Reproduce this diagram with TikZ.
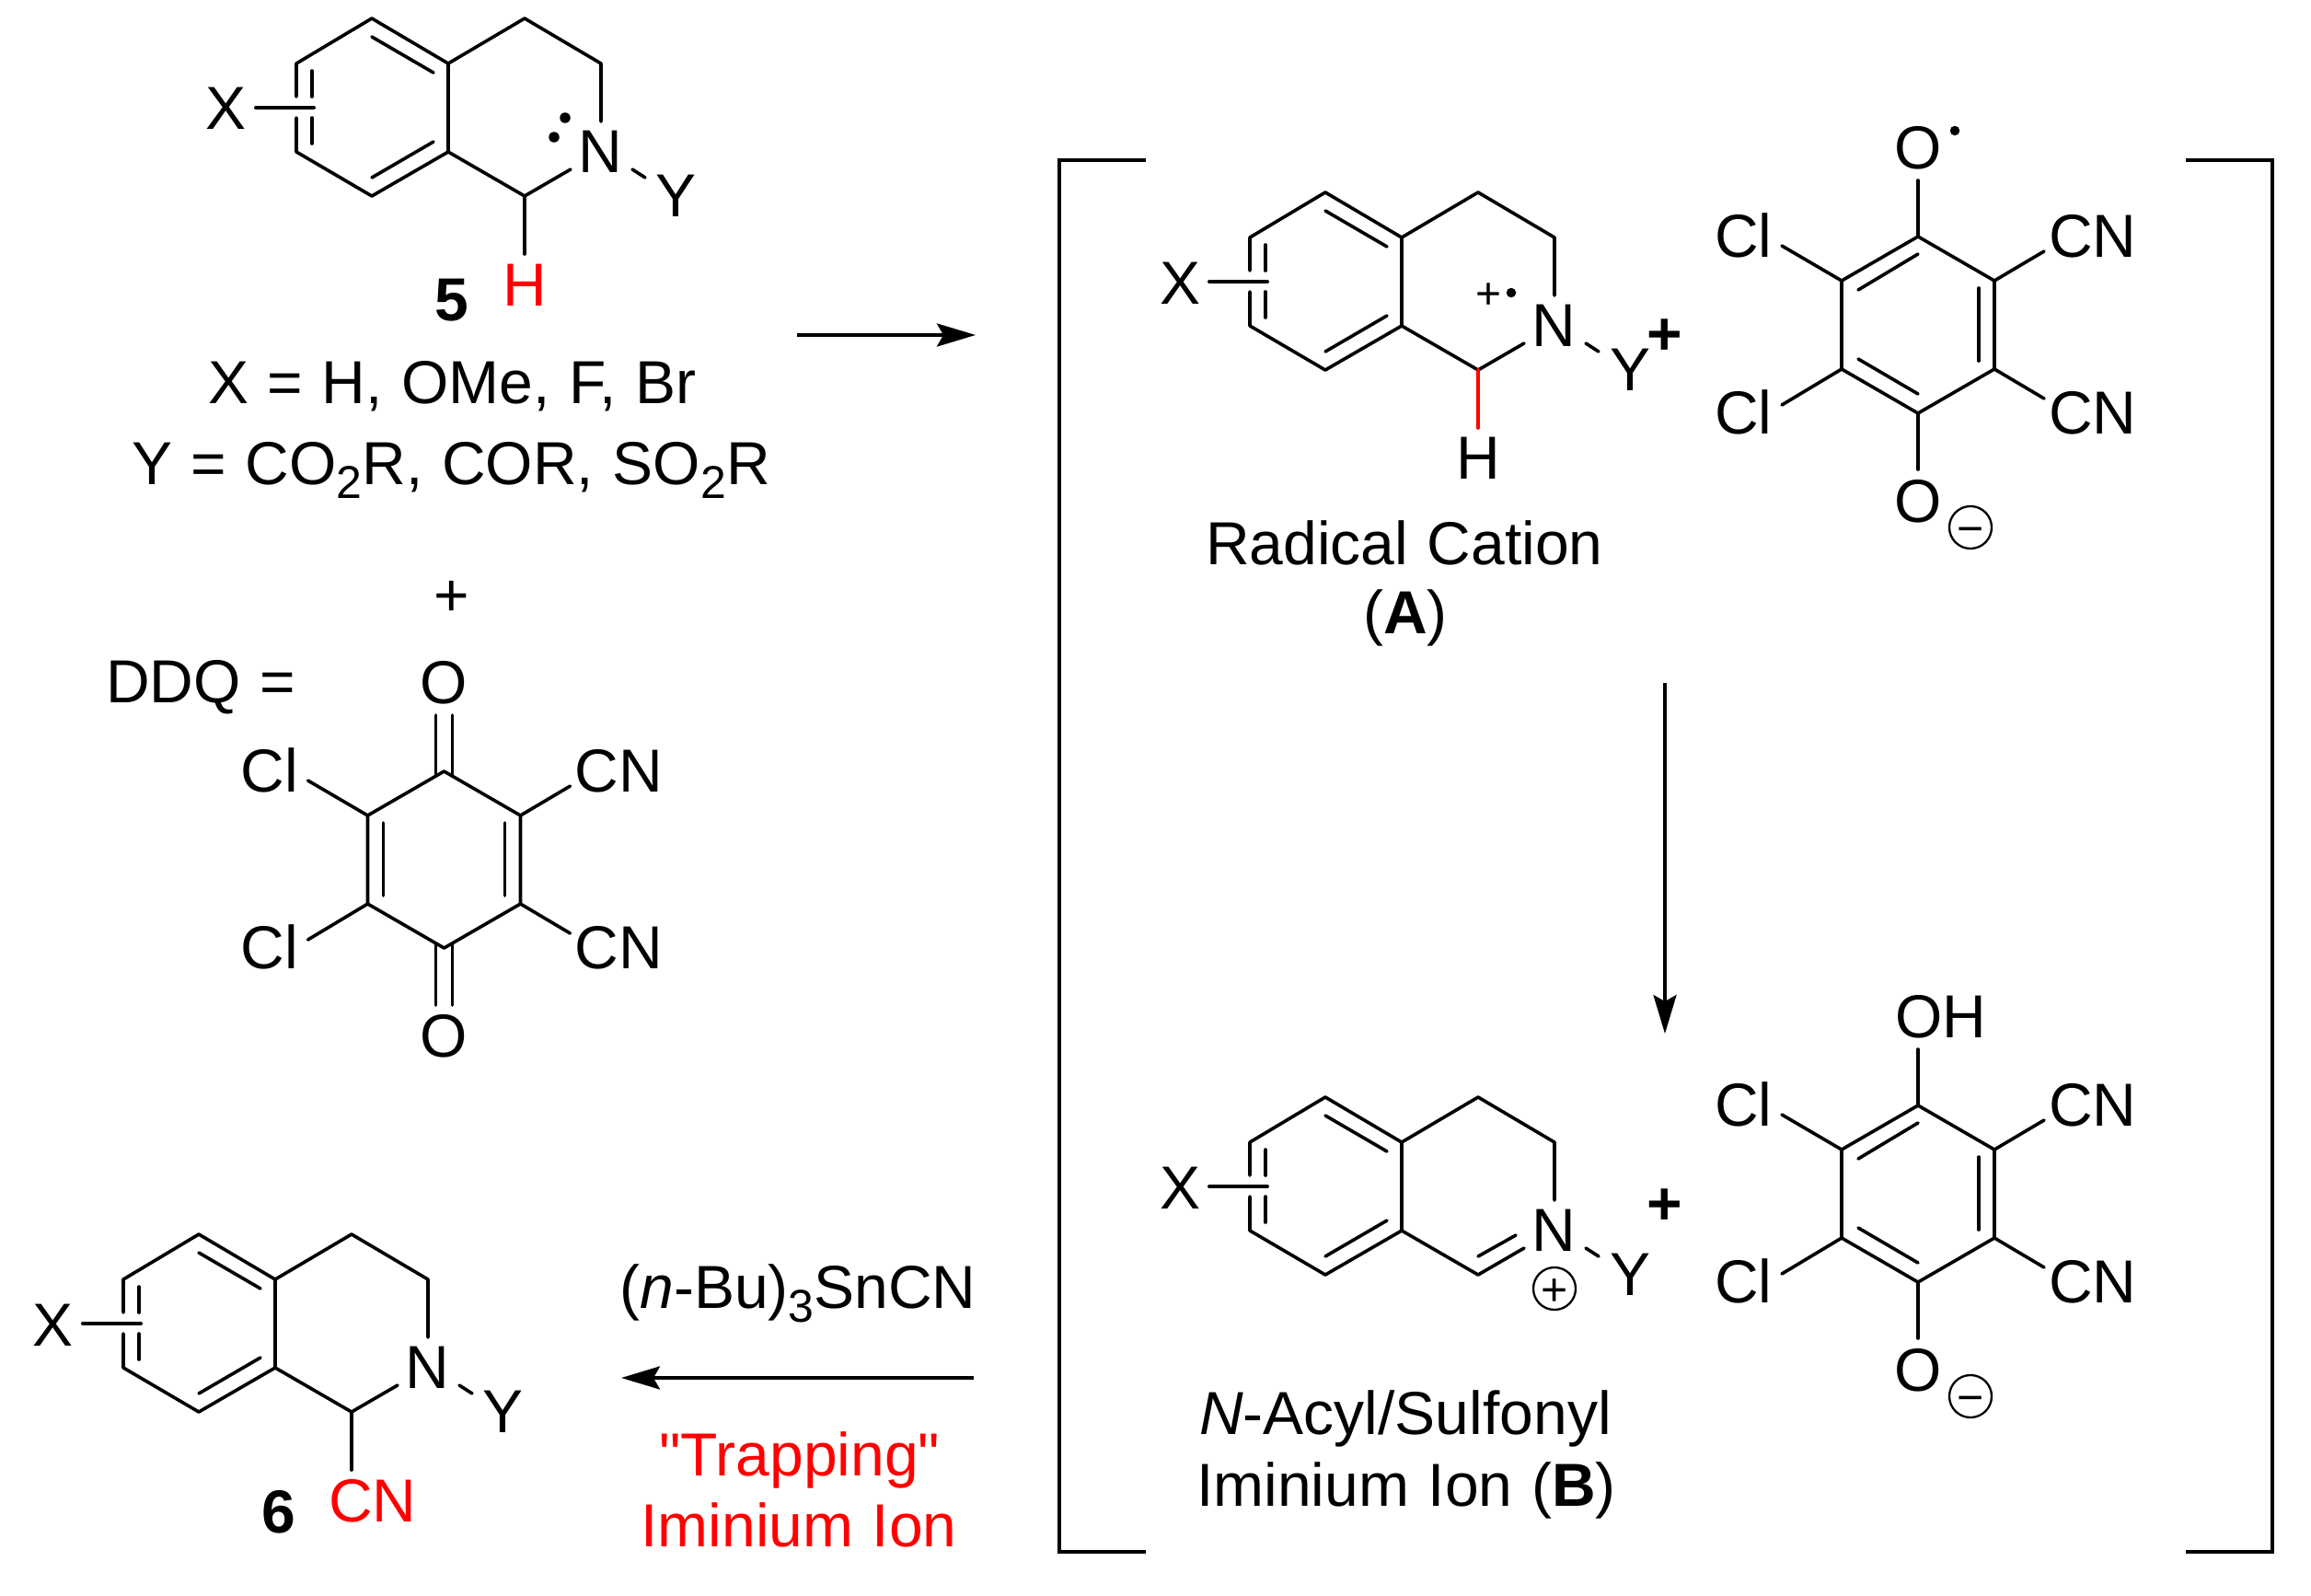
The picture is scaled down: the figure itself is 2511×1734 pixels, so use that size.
\documentclass[tikz,border=0pt]{standalone}
\usepackage{fontspec}
\setmainfont{Liberation Sans}[Ligatures=TeXOff,WordSpace=1.12]
\usetikzlibrary{arrows.meta}
\definecolor{rxred}{RGB}{255,0,0}
\newcommand{\dnsub}[1]{\raisebox{-15pt}{\fontsize{50}{50}\selectfont #1}}
\tikzset{
  lab/.style={inner sep=0pt,outer sep=0pt,anchor=base,font=\fontsize{66}{72}\selectfont},
  labw/.style={lab,anchor=base west},
  bond/.style={line width=3.6pt,line cap=round,line join=round},
  rxarrow/.style={line width=3.6pt,-{Stealth[length=42pt,width=25pt,inset=7pt]}},
  brk/.style={line width=3.8pt,line join=miter},
  chargering/.style={draw,circle,line width=2.3pt,minimum size=46pt,inner sep=0pt},
  chargesign/.style={lab,font=\fontsize{50}{50}\selectfont},
  elec/.style={fill,circle,inner sep=0pt,minimum size=10.5pt},
  lonee/.style={fill,circle,inner sep=0pt,minimum size=11.5pt},
}
% tetrahydroisoquinoline skeleton, local coordinates are those of compound 5
\newcommand{\isoqcore}{%
  \coordinate (c8a) at (404,20);  \coordinate (ul) at (322,69);
  \coordinate (ll) at (322,165);  \coordinate (b) at (404,213);
  \coordinate (jl) at (487,165);  \coordinate (ju) at (487,69);
  \coordinate (c4) at (570,20);   \coordinate (c3) at (653,69);
  \coordinate (c1) at (570,213);  \coordinate (nt) at (653,132);
  \coordinate (nl) at (620,184);
  \coordinate (ula) at (322,105); \coordinate (llb) at (322,128);
  \coordinate (i1) at (339,77);   \coordinate (i2) at (339,105);
  \coordinate (i3) at (339,128);  \coordinate (i4) at (339,156);
  \coordinate (i5) at (404,40);   \coordinate (i6) at (471,79);
  \coordinate (i7) at (404,193);  \coordinate (i8) at (471,154);
  \coordinate (xa) at (278,117);  \coordinate (xb) at (341,117);
  \coordinate (ya) at (687,184);  \coordinate (yb) at (701,193);
  \coordinate (sub) at (570,276);
  \node[lab] (xl) at (246,141) {X};
  \node[lab] (nn) at (652,187) {N};
  \node[lab] (yy) at (735,235) {Y};
  \draw[bond] (ula) -- (ul) -- (c8a) -- (ju) -- (jl) -- (b) -- (ll) -- (llb);
  \draw[bond] (ju) -- (c4) -- (c3) -- (nt);
  \draw[bond] (jl) -- (c1);
  \draw[bond] (i1) -- (i2);
  \draw[bond] (i3) -- (i4);
  \draw[bond] (i5) -- (i6);
  \draw[bond] (i7) -- (i8);
  \draw[bond,line width=4pt] (xa) -- (xb);
  \draw[bond] (ya) -- (yb);
}
% benzene-type ring with Cl / CN groups, centred on the local origin
\newcommand{\qcore}{%
  \coordinate (t) at (0,-96);  \coordinate (tl) at (-83,-48);
  \coordinate (bl) at (-83,48); \coordinate (bb) at (0,96);
  \coordinate (br) at (83,48);  \coordinate (tr) at (83,-48);
  \coordinate (cla) at (-148,-86); \coordinate (clb) at (-148,87);
  \coordinate (cna) at (137,-80);  \coordinate (cnb) at (137,80);
  \draw[bond] (t) -- (tl) -- (bl) -- (bb) -- (br) -- (tr) -- cycle;
  \draw[bond] (tl) -- (cla);
  \draw[bond] (bl) -- (clb);
  \draw[bond] (tr) -- (cna);
  \draw[bond] (br) -- (cnb);
  \node[labw] (cl1) at (-221,-74) {Cl};
  \node[labw] (cl2) at (-221,118) {Cl};
  \node[labw] (cn1) at (142,-74) {CN};
  \node[labw] (cn2) at (142,118) {CN};
  \coordinate (ri1) at (66,-40); \coordinate (ri2) at (66,39);
  \draw[bond] (ri1) -- (ri2);
}
% extra inner bonds and O bonds of the reduced rings
\newcommand{\qarom}{%
  \coordinate (a1) at (0,-77);  \coordinate (a2) at (-65,-38);
  \coordinate (a3) at (-65,37); \coordinate (a4) at (0,75);
  \coordinate (ot) at (0,-157); \coordinate (ob) at (0,157);
  \draw[bond] (a1) -- (a2);
  \draw[bond] (a3) -- (a4);
  \draw[bond] (t) -- (ot);
  \draw[bond] (bb) -- (ob);
  \node[lab] (olow) at (0,214) {O};
  \node[chargering] (minusring) at (57,220) {};
  \node[chargesign] (minussign) at (57,238) {−};
}
\begin{document}
\begin{tikzpicture}[x=1pt,y=-1pt]
\useasboundingbox (0,0) rectangle (2511,1734);
\fill[white] (0,0) rectangle (2511,1734);

% ---------- compound 5
\begin{scope}[name prefix=s5-]
  \isoqcore
  \draw[bond] (c1) -- (nl);
  \draw[bond] (c1) -- (sub);
  \node[lab,text=rxred] (h) at (570,332) {H};
  \node[lab] (five) at (491,348) {\textbf{5}};
  \node[lonee] (d1) at (614,128) {};
  \node[lonee] (d2) at (602,149) {};
\end{scope}
\node[lab] (xdef) at (491,438) {X = H, OMe, F, Br};
\node[lab] (ydef) at (490,526) {Y = CO\dnsub{2}R, COR, SO\dnsub{2}R};
\node[lab] (plus1) at (490.5,669) {+};

% ---------- DDQ
\node[labw] (ddq) at (115,763) {DDQ =};
\begin{scope}[shift={(482.5,934)},name prefix=q-]
  \qcore
  \coordinate (li1) at (-66,-40); \coordinate (li2) at (-66,39);
  \draw[bond] (li1) -- (li2);
  \coordinate (o1a) at (-9,-157); \coordinate (o1b) at (-9,-91);
  \coordinate (o2a) at (9,-157);  \coordinate (o2b) at (9,-91);
  \coordinate (o3a) at (-9,158);  \coordinate (o3b) at (-9,92);
  \coordinate (o4a) at (9,158);   \coordinate (o4b) at (9,92);
  \draw[bond] (o1a) -- (o1b);
  \draw[bond] (o2a) -- (o2b);
  \draw[bond] (o3a) -- (o3b);
  \draw[bond] (o4a) -- (o4b);
  \node[lab] (ot) at (0,-170) {O};
  \node[lab] (ob) at (0,214) {O};
\end{scope}

% ---------- compound 6
\begin{scope}[shift={(-188,1321)},name prefix=s6-]
  \isoqcore
  \draw[bond] (c1) -- (nl);
  \draw[bond] (c1) -- (sub);
  \node[lab,text=rxred] (cn) at (593,332) {CN};
  \node[lab] (six) at (491,344) {\textbf{6}};
\end{scope}

% ---------- radical cation A
\begin{scope}[shift={(1036,189)},name prefix=sa-]
  \isoqcore
  \draw[bond] (c1) -- (nl);
  \draw[bond,draw=rxred] (c1) -- (sub);
  \node[lab] (h) at (570,331) {H};
  \node[lab,font=\fontsize{48}{48}\selectfont] (rp) at (581,146) {+};
  \node[elec] (rd) at (606,129) {};
\end{scope}
\node[lab] (aplus) at (1809,385) {\textbf{+}};
\begin{scope}[shift={(2084,353)},name prefix=qa-]
  \qcore
  \qarom
  \node[lab] (otop) at (0,-170) {O};
  \node[elec] (od) at (40,-211) {};
\end{scope}
\node[lab] (rc) at (1526,613) {Radical Cation};
\node[lab] (rca) at (1527,688) {(\textbf{A})};

% ---------- iminium B
\begin{scope}[shift={(1036,1172)},name prefix=sb-]
  \isoqcore
  \draw[bond] (c1) -- (nl);
  \coordinate (db1) at (570,193); \coordinate (db2) at (611,170);
  \draw[bond] (db1) -- (db2);
  \node[chargering] (pr) at (653,228) {};
  \node[chargesign] (ps) at (653,246) {+};
\end{scope}
\node[lab] (bplus) at (1809,1330) {\textbf{+}};
\begin{scope}[shift={(2084,1297)},name prefix=qb-]
  \qcore
  \qarom
  \node[labw] (oh) at (-25,-170) {OH};
\end{scope}
\node[lab] (na) at (1527,1558) {\textit{N}-Acyl/Sulfonyl};
\node[lab] (im) at (1528,1636) {Iminium Ion (\textbf{B})};

% ---------- reagents on the bottom arrow
\node[lab] (tin) at (867,1421) {(\textit{n}-Bu)\dnsub{3}SnCN};
\node[lab,text=rxred] (tr1) at (869,1603) {"Trapping"};
\node[lab,text=rxred] (tr2) at (868,1680) {Iminium Ion};

% ---------- arrows
\coordinate (a1s) at (866,364);  \coordinate (a1e) at (1060,364);
\coordinate (a2s) at (1809,742); \coordinate (a2e) at (1809,1123);
\coordinate (a3s) at (1058,1497);\coordinate (a3e) at (675,1497);
\draw[rxarrow] (a1s) -- (a1e);
\draw[rxarrow] (a2s) -- (a2e);
\draw[rxarrow] (a3s) -- (a3e);

% ---------- brackets
\coordinate (bl1) at (1245,174); \coordinate (bl2) at (1151,174);
\coordinate (bl3) at (1151,1686); \coordinate (bl4) at (1245,1686);
\coordinate (br1) at (2375,174); \coordinate (br2) at (2469,174);
\coordinate (br3) at (2469,1686); \coordinate (br4) at (2375,1686);
\draw[brk] (bl1) -- (bl2) -- (bl3) -- (bl4);
\draw[brk] (br1) -- (br2) -- (br3) -- (br4);
\end{tikzpicture}
\end{document}
